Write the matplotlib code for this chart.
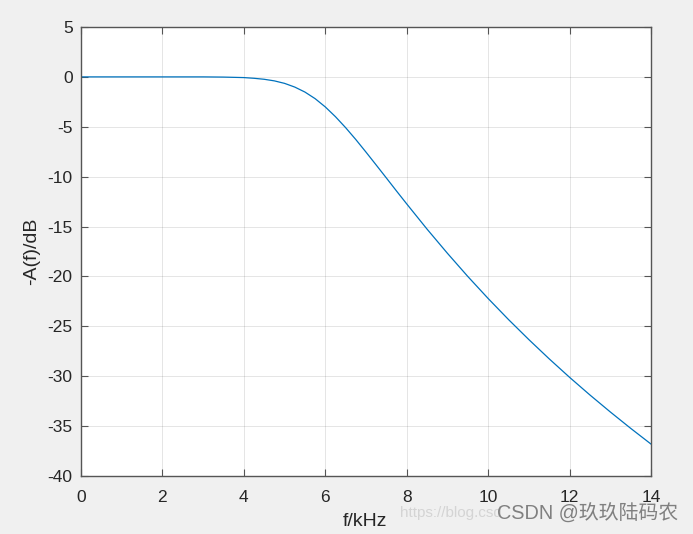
import matplotlib
matplotlib.use("Agg")
import matplotlib.pyplot as plt

# Frequency (kHz) and response (dB)
freq_khz = [0, 0.5, 1, 1.5, 2, 2.5, 3, 3.5, 4, 4.25, 4.5, 4.75, 5, 5.25, 5.5, 5.75,
            6, 6.25, 6.5, 6.75, 7, 7.25, 7.5, 7.75, 8, 8.5, 9, 9.5, 10, 10.5, 11,
            11.5, 12, 12.5, 13, 13.5, 14]
gain_db = [0, 0, 0, 0, 0, 0, 0, -0.02, -0.07, -0.14, -0.24, -0.40, -0.65, -1.02, -1.52, -2.18,
           -3.01, -3.99, -5.09, -6.28, -7.54, -8.83, -10.13, -11.44, -12.73, -15.26, -17.68,
           -20.0, -22.21, -24.32, -26.33, -28.26, -30.11, -31.88, -33.58, -35.22, -36.80]

x_ticks = [0, 2, 4, 6, 8, 10, 12, 14]
y_ticks = [-40, -35, -30, -25, -20, -15, -10, -5, 0, 5]

plt.rcParams['font.family'] = ['Liberation Sans', 'Noto Sans CJK SC', 'DejaVu Sans']

fig = plt.figure(figsize=(6.93, 5.34), dpi=100, facecolor='#f0f0f0')
ax = fig.add_axes([81/693, 1-476/534, (651-81)/693, (476-27)/534])
ax.set_facecolor('white')

ax.plot(freq_khz, gain_db, color='#0072BD', linewidth=0.9)

ax.set_xlim(0, 14)
ax.set_ylim(-40, 5)
ax.set_xticks(x_ticks)
ax.set_yticks(y_ticks)
ax.set_xticklabels([str(v) for v in x_ticks])
ax.set_yticklabels([str(v) for v in y_ticks])
ax.grid(True, color='#262626', alpha=0.12, linewidth=0.7)
ax.tick_params(direction='in', length=5, width=0.8, colors='#555555',
               labelcolor='#262626', labelsize=12.5, top=True, right=True)
ax.tick_params(axis='x', pad=10)
ax.tick_params(axis='y', pad=6)
for s in ax.spines.values():
    s.set_color('#555555')
    s.set_linewidth(1.0)

ax.set_xlabel('f/kHz', fontsize=14, color='#262626')
ax.set_ylabel('-A(f)/dB', fontsize=14, color='#262626')
ax.xaxis.set_label_coords(0.498, -0.082)
ax.yaxis.set_label_coords(-0.071, 0.5)

fig.text(400/693, 1-513/534, 'https://blog.csd', fontsize=11,
         color='#d4d4d4', va='center', ha='left')
fig.text(497/693, 1-514/534, 'CSDN @玖玖陆码农', fontsize=14.3,
         color='#808080', va='center', ha='left')

fig.savefig('out.png', dpi=100, facecolor=fig.get_facecolor())
